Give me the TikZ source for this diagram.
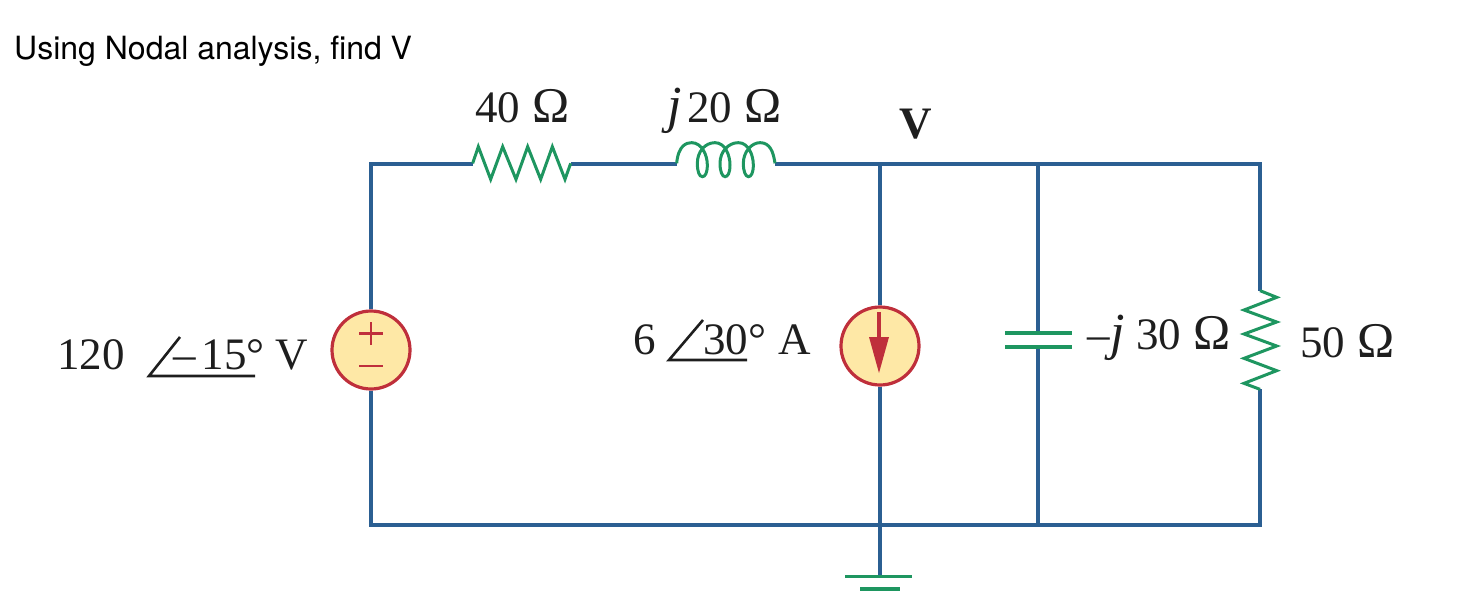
\documentclass[tikz,border=0pt]{standalone}
\usepackage{fontspec}
\setmainfont{Liberation Serif}
\newfontfamily\headfont{TeX Gyre Heros}
\definecolor{wire}{HTML}{2B5F92}
\definecolor{comp}{HTML}{1E9660}
\definecolor{srcred}{HTML}{BF2F3B}
\definecolor{srcfill}{HTML}{FEE8A6}
\definecolor{txt}{HTML}{1E1E1E}
\newcommand{\ohmsign}{\hspace{12.5pt}{\fontsize{50}{50}\selectfont Ω}}
\newcommand{\bigj}{{\fontsize{52}{52}\selectfont\textit{j}}}
\tikzset{
  wireline/.style={draw=wire,line width=4pt},
  compline/.style={draw=comp,line width=3pt,line join=miter},
  plate/.style={draw=comp,line width=3.8pt},
  source/.style={circle,draw=srcred,fill=srcfill,line width=3.2pt,minimum size=78pt,inner sep=0pt},
  srcsign/.style={draw=srcred,line width=2.6pt},
  lab/.style={anchor=base west,inner sep=0pt,text=txt,font=\fontsize{45}{45}\selectfont},
  anglemark/.style={draw=txt,line width=2.6pt,line join=miter},
}
\begin{document}
\begin{tikzpicture}[x=1pt,y=-1pt]
\useasboundingbox (0,0) rectangle (1460,590);
% junctions and component terminals
\coordinate (tl) at (371,164);
\coordinate (bl) at (371,525);
\coordinate (tr) at (1260,164);
\coordinate (br) at (1260,525);
\coordinate (tm) at (880,164);
\coordinate (bm) at (880,525);
\coordinate (tc) at (1038,164);
\coordinate (bc) at (1038,525);
\coordinate (r1a) at (472.7,164);
\coordinate (r1b) at (570.7,164);
\coordinate (l1a) at (676.7,164);
\coordinate (l1b) at (775,164);
\coordinate (r2a) at (1260,290.7);
\coordinate (r2b) at (1260,389.3);
\coordinate (capa) at (1038,333);
\coordinate (capb) at (1038,347);
\coordinate (gnd) at (880,576);
\node[source] (vs) at (371,350) {};
\node[source] (is) at (880,346) {};
% wires
\draw[wireline] (vs.north) -- (tl) -- (r1a);
\draw[wireline] (r1b) -- (l1a);
\draw[wireline] (l1b) -- (tm) -- (tc) -- (tr) -- (r2a);
\draw[wireline] (r2b) -- (br) -- (bc) -- (bm) -- (bl) -- (vs.south);
\draw[wireline] (tm) -- (is.north);
\draw[wireline] (is.south) -- (bm) -- (gnd);
\draw[wireline] (tc) -- (capa);
\draw[wireline] (capb) -- (bc);
% horizontal resistor
\begin{scope}[shift={(450pt,-80pt)},x=.33333pt,y=-.33333pt]
\draw[compline] (68,250) -- (85,200) -- (122,298) -- (158,200) -- (198,298) -- (233,200) -- (272,298) -- (307,200) -- (345,298) -- (362,250);
% inductor
\draw[compline] (680,250) .. controls (685,195) and (710,188) .. (725,188)
  .. controls (755,188) and (772,225) .. (772,255)
  .. controls (772,280) and (765,290) .. (757,290)
  .. controls (748,290) and (742,275) .. (742,250)
  .. controls (742,215) and (765,188) .. (795,188)
  .. controls (825,188) and (840,225) .. (840,255)
  .. controls (840,280) and (833,290) .. (825,290)
  .. controls (817,290) and (810,275) .. (810,250)
  .. controls (810,215) and (835,188) .. (865,188)
  .. controls (895,188) and (910,225) .. (910,255)
  .. controls (910,280) and (903,290) .. (895,290)
  .. controls (887,290) and (880,275) .. (880,250)
  .. controls (880,215) and (905,188) .. (930,188)
  .. controls (960,188) and (970,215) .. (975,250);
\end{scope}
% vertical resistor
\begin{scope}[shift={(990.7pt,-270pt)},x=.33333pt,y=-.33333pt]
\draw[compline] (808,62) -- (858,82) -- (760,120) -- (858,156) -- (760,192) -- (858,228) -- (760,265) -- (858,302) -- (760,340) -- (808,358);
\end{scope}
% capacitor
\draw[plate] (1005,333) -- (1072,333);
\draw[plate] (1005,347) -- (1072,347);
% ground
\draw[plate] (845,576.5) -- (912,576.5);
\draw[plate] (860,589) -- (900,589);
% source signs
\draw[srcsign] (359,333.5) -- (383,333.5);
\draw[srcsign] (371,322) -- (371,345);
\draw[srcsign] (359,366) -- (383,366);
\draw[draw=srcred,line width=4.5pt] (879,312) -- (879,340);
\fill[srcred] (869,337) -- (889,337) -- (879,373) -- cycle;
% texts
\node[anchor=base west,inner sep=0pt,font=\headfont\fontsize{32}{32}\selectfont,text=black] (title) at (14,59) {Using Nodal analysis, find V};
\node[lab] (t40) at (475,122) {40\ohmsign};
\node[lab] (tj20) at (667,122) {\bigj\hspace{5.5pt}20\ohmsign};
\node[lab,anchor=base,font=\bfseries\fontsize{45}{45}\selectfont] (tv) at (916,138) {V};
\node[lab] (t120) at (57,369) {120};
\node[lab] (t15) at (173,369) {–\hspace{6pt}15°};
\node[lab] (t15v) at (275,369) {V};
\draw[anglemark] (180,337) -- (149,376) -- (255,376);
\node[lab] (t6) at (633,354) {6};
\node[lab] (t30) at (703,354) {30°};
\node[lab] (t30a) at (778,354) {A};
\draw[anglemark] (703,320) -- (669,360) -- (747,360);
\node[lab] (tcap) at (1087,349) {–\hspace{1pt}\bigj\hspace{11pt}30\ohmsign};
\node[lab] (t50) at (1300,357) {50\ohmsign};
\end{tikzpicture}
\end{document}
